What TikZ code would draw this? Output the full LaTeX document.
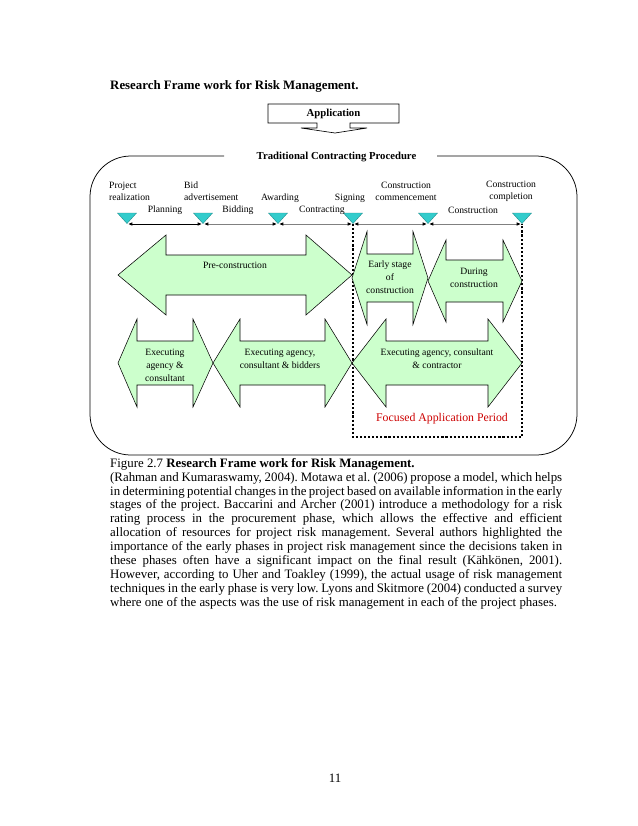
\documentclass[tikz,border=0pt]{standalone}
\usepackage{fontspec}
\setmainfont{Liberation Serif}
\usepackage{tikz}
\usetikzlibrary{arrows.meta, positioning, calc}
\definecolor{phasegreen}{RGB}{204,255,204}
\definecolor{mileteal}{RGB}{51,204,204}
\definecolor{focusred}{RGB}{204,0,0}
\definecolor{linegrey}{RGB}{128,128,128}
\frenchspacing

% double-headed phase arrow: left tip, left head base, right head base, right tip, mid y, head half, shaft half
\newcommand{\phasearrow}[7]{%
  \filldraw[phase] (#1,#5) -- (#2,#5-#6) -- (#2,#5-#7) -- (#3,#5-#7) -- (#3,#5-#6)
    -- (#4,#5) -- (#3,#5+#6) -- (#3,#5+#7) -- (#2,#5+#7) -- (#2,#5+#6) -- cycle;}

\begin{document}
\begin{tikzpicture}[
  x=0.933pt, y=-0.933pt,
  font=\fontsize{9}{11.5}\selectfont,
  phase/.style={fill=phasegreen, draw=black, line width=0.5pt, line join=miter},
  milestone/.style={fill=mileteal, draw=mileteal!70!black, line width=0.4pt},
  frame/.style={draw=black, line width=0.7pt, rounded corners=38pt},
  heading/.style={font=\fontsize{10}{12}\selectfont\bfseries},
  lbl/.style={align=center, inner sep=0pt},
  seg/.style={{Latex[length=4pt,width=3.5pt,black]}-{Latex[length=4pt,width=3.5pt,black]},
              linegrey, line width=0.9pt, shorten <=1pt, shorten >=1pt},
  focus/.style={draw=black, line width=2pt, dash pattern=on 2pt off 1.8pt},
  phaselbl/.style={align=center, inner sep=0pt, font=\fontsize{9}{12}\selectfont}
]
\useasboundingbox (0,0) rectangle (638,826);

% ── Page heading ──
\node[anchor=west, inner sep=0pt, font=\fontsize{12}{14}\selectfont\bfseries] (pagetitle) at (110,86)
  {Research Frame work for Risk Management.};

% ── Application callout ──
\node[heading, minimum width=122pt, minimum height=17.7pt, inner sep=0pt] (app) at (333.5,113.5) {Application};
\draw[line width=0.6pt] (317,123) -- (268,123) -- (268,104) -- (399,104) -- (399,123) -- (350,123)
  -- (350,128) -- (367,128) -- (335,133) -- (301,128) -- (317,128) -- cycle;

% ── Frame ──
\draw[frame] (224,156) -- (90,156) -- (90,455) -- (577,455) -- (577,156) -- (437,156);
\node[heading, inner sep=0pt] (tcp) at (336.5,157) {Traditional Contracting Procedure};

% ── Milestones on the time line ──
\foreach \x/\n in {127/1, 203/2, 278/3, 353/4, 428/5, 522/6} {
  \coordinate (m\n) at (\x,224);
  \filldraw[milestone] (\x-9.5,213) -- (\x+9.5,213) -- (\x,223.5) -- cycle;
}
\draw[seg, black] (m1) -- (m2);
\draw[seg] (m2) -- (m3);
\draw[seg] (m3) -- (m4);
\draw[seg] (m4) -- (m5);
\draw[seg] (m5) -- (m6);

% milestone labels
\node[lbl, align=left, anchor=west] (prj)  at (109,191.5) {Project\\realization};
\node[lbl, align=left, anchor=west] (bid)  at (184,191.5) {Bid\\advertisement};
\node[lbl] (awd)  at (280,198) {Awarding};
\node[lbl] (sgn)  at (350,198) {Signing};
\node[lbl] (ccom) at (406,191.5) {Construction\\commencement};
\node[lbl] (ccpl) at (511,191.5) {Construction\\completion};

% segment labels
\node[lbl] (pln)  at (165,210) {Planning};
\node[lbl] (bdg)  at (238,210) {Bidding};
\node[lbl] (ctr)  at (322,210) {Contracting};
\node[lbl] (cns)  at (473,210) {Construction};

% ── Focused application period ──
\draw[focus] (m4) -- ++(0,213) -| (m6);
\node[font=\fontsize{11}{13}\selectfont, text=focusred, inner sep=0pt] (fap) at (442,419)
  {Focused Application Period};

% ── Phase arrows, first row ──
\phasearrow{118}{166}{306}{352}{275}{40}{20}
\phasearrow{352}{367}{413}{428}{278}{46.5}{24}
\phasearrow{428}{446}{503}{522}{281}{41}{21}
\node[phaselbl] (pre)   at (235,265) {Pre-construction};
\node[phaselbl] (early) at (390,277.5) {Early stage\\of\\construction};
\node[phaselbl] (dur)   at (474,278) {During\\construction};

% ── Phase arrows, second row ──
\phasearrow{118}{137}{193}{213}{363}{44}{22}
\phasearrow{213}{240}{325}{352}{363}{44}{22}
\phasearrow{352}{386}{488}{522}{363}{44}{22}
\node[phaselbl] (exa) at (165,365) {Executing\\agency \&\\consultant};
\node[phaselbl] (exb) at (280,359) {Executing agency,\\consultant \& bidders};
\node[phaselbl] (exc) at (437,359) {Executing agency, consultant\\\& contractor};

% ── Caption and body text ──
\node[anchor=north west, inner sep=0pt, text width=421.7pt, align=justify,
      font=\fontsize{12}{12.97}\selectfont] (body) at (110,458)
  {Figure 2.7 \textbf{Research Frame work for Risk Management.}\\
   (Rahman and Kumaraswamy, 2004). Motawa et al. (2006) propose a model, which helps\linebreak
   in determining potential changes in the project based on available information in the early\linebreak
   stages of the project. Baccarini and Archer (2001) introduce a methodology for a risk\linebreak
   rating process in the procurement phase, which allows the effective and efficient\linebreak
   allocation of resources for project risk management. Several authors highlighted the\linebreak
   importance of the early phases in project risk management since the decisions taken in\linebreak
   these phases often have a significant impact on the final result (Kähkönen, 2001).\linebreak
   However, according to Uher and Toakley (1999), the actual usage of risk management\linebreak
   techniques in the early phase is very low. Lyons and Skitmore (2004) conducted a survey\linebreak
   where one of the aspects was the use of risk management in each of the project phases.};

\node[font=\fontsize{12}{14}\selectfont, inner sep=0pt] (pageno) at (335,778) {11};

\end{tikzpicture}
\end{document}
